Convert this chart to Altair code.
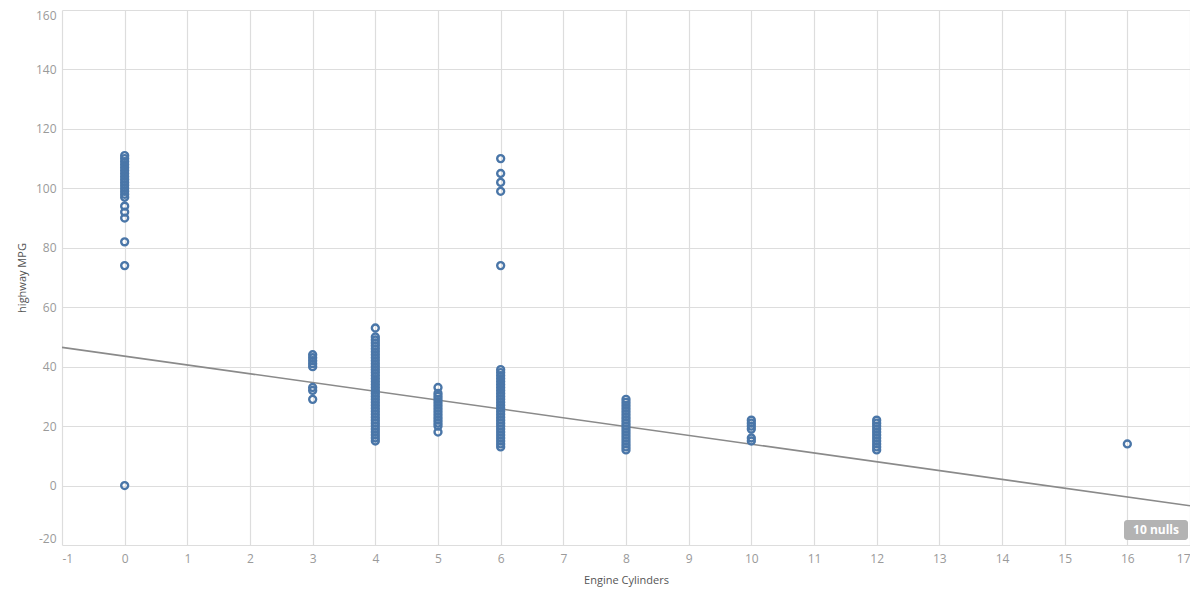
import altair as alt
import pandas as pd

# highway MPG values read per engine-cylinder group
cyl0 = [111, 110, 109, 108, 107, 106, 105, 104, 103, 102, 101, 100, 99, 98, 97, 94, 92, 90, 82, 74, 0]
cyl3 = [44, 43, 42, 41, 40, 33, 32, 29]
cyl4 = [53, 50, 49, 48, 47, 46, 45, 44, 43, 42, 41, 40, 39, 38, 37, 36, 35, 34, 33, 32,
        31, 30, 29, 28, 27, 26, 25, 24, 23, 22, 21, 20, 19, 18, 17, 16, 15]
cyl5 = [33, 31, 30, 29, 28, 27, 26, 25, 24, 23, 22, 21, 20, 18]
cyl6 = [110, 105, 102, 99, 74, 39, 38, 37, 36, 35, 34, 33, 32, 31, 30, 29, 28, 27, 26, 25,
        24, 23, 22, 21, 20, 19, 18, 17, 16, 15, 14, 13]
cyl8 = [29, 28, 27, 26, 25, 24, 23, 22, 21, 20, 19, 18, 17, 16, 15, 14, 13, 12]
cyl10 = [22, 21, 20, 19, 16, 15]
cyl12 = [22, 21, 20, 19, 18, 17, 16, 15, 14, 13, 12]
cyl16 = [14]

groups = {0: cyl0, 3: cyl3, 4: cyl4, 5: cyl5, 6: cyl6, 8: cyl8, 10: cyl10, 12: cyl12, 16: cyl16}

# trend line end points
trend_cyl = [-1, 17]
trend_mpg = [46.5, -6.8]

null_label = "10 nulls"

rows = [{"cyl": c, "mpg": v} for c, vals in groups.items() for v in vals]
df = pd.DataFrame(rows)
trend_df = pd.DataFrame({"cyl": trend_cyl, "mpg": trend_mpg})

W, H = 1128, 535
FONT = "Open Sans"

xscale = alt.Scale(domain=[-1, 17], nice=False, zero=False)
yscale = alt.Scale(domain=[-20, 160], nice=False, zero=False)

xaxis = alt.Axis(
    title="Engine Cylinders",
    values=list(range(-1, 18)),
    labelExpr="'' + datum.value",
    grid=True,
    gridColor="#dddddd",
    gridWidth=1.2,
    ticks=False,
    domain=False,
    labelFlush=True,
    labelPadding=8,
    labelColor="#9a9a9a",
    labelFontSize=12,
    labelFont=FONT,
    titleFont=FONT,
    titleFontSize=11,
    titleFontWeight="normal",
    titleColor="#555555",
    titlePadding=10,
)
yaxis = alt.Axis(
    title="highway MPG",
    values=list(range(-20, 161, 20)),
    labelExpr="'' + datum.value",
    grid=True,
    gridColor="#dddddd",
    gridWidth=1.2,
    ticks=False,
    domain=False,
    labelFlush=True,
    labelPadding=6,
    labelColor="#9a9a9a",
    labelFontSize=12,
    labelFont=FONT,
    titleFont=FONT,
    titleFontSize=11,
    titleFontWeight="normal",
    titleColor="#555555",
    titlePadding=8,
)

points = alt.Chart(df).mark_point(
    shape="circle", filled=False, size=48, strokeWidth=2.4, color="#4A76A8", opacity=1
).encode(
    x=alt.X("cyl:Q", scale=xscale, axis=xaxis),
    y=alt.Y("mpg:Q", scale=yscale, axis=yaxis),
)

trend = alt.Chart(trend_df).mark_line(color="#8a8a8a", strokeWidth=1.6).encode(
    x=alt.X("cyl:Q", scale=xscale),
    y=alt.Y("mpg:Q", scale=yscale),
)

badge_df = pd.DataFrame({"label": [null_label]})
badge = alt.Chart(badge_df).mark_rect(color="#b3b3b3", cornerRadius=3).encode(
    x=alt.value(W - 66), x2=alt.value(W - 2),
    y=alt.value(H - 25), y2=alt.value(H - 5),
)
badge_text = alt.Chart(badge_df).mark_text(
    color="white", font=FONT, fontSize=12, fontWeight="bold", align="center", baseline="middle"
).encode(
    x=alt.value(W - 34), y=alt.value(H - 15), text="label:N"
)

chart = alt.layer(trend, points, badge, badge_text).properties(
    width=W, height=H,
    autosize=alt.AutoSizeParams(type="none"),
    padding={"left": 54, "top": 2, "right": 0, "bottom": 50},
).configure_view(stroke=None)

chart.save("out.html", embed_options={"renderer": "svg", "actions": False})
